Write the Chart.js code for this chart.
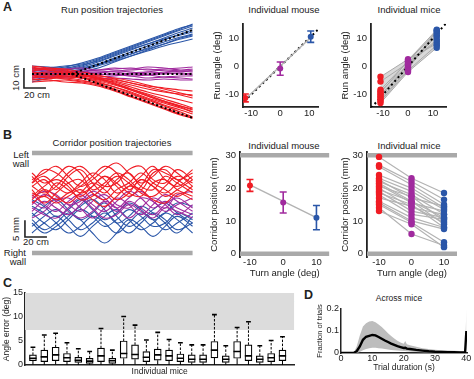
<!DOCTYPE html>
<html><head><meta charset="utf-8">
<script src="https://cdn.jsdelivr.net/npm/chart.js@4"></script>
<style>
html,body{margin:0;padding:0;background:#fff;}
body{width:474px;height:379px;position:relative;overflow:hidden;font-family:"Liberation Sans",Arial,sans-serif;color:#222;}
.t{position:absolute;white-space:nowrap;font-size:9.5px;line-height:1;transform:translate(-50%,-50%);}
.s{font-size:8.5px;}
.L{position:absolute;font-weight:bold;font-size:12.5px;line-height:1;}
.r{transform:translate(-50%,-50%) rotate(-90deg);}
</style></head><body>
<div class="L" style="left:3px;top:1px">A</div>
<div class="t" style="left:112px;top:10px">Run position trajectories</div>
<div class="t" style="left:284px;top:10px">Individual mouse</div>
<div class="t" style="left:409px;top:10px">Individual mice</div>
<div class="t r" style="left:16px;top:78px">10 cm</div>
<div class="t" style="left:37px;top:95px">20 cm</div>

<div class="L" style="left:3px;top:129px">B</div>
<div class="t" style="left:112px;top:143px">Corridor position trajectories</div>
<div class="t" style="left:284px;top:146px">Individual mouse</div>
<div class="t" style="left:409px;top:146px">Individual mice</div>
<div style="position:absolute;left:0;top:151px;width:29px;text-align:right;font-size:9.5px;line-height:8.5px">Left<br>wall</div>
<div style="position:absolute;left:0;top:249px;width:26px;text-align:right;font-size:9.5px;line-height:8.5px">Right<br>wall</div>
<div class="t r" style="left:16px;top:229px">5 mm</div>
<div class="t" style="left:36px;top:242px">20 cm</div>

<div class="L" style="left:3px;top:277px">C</div>
<div class="t s" style="left:267px;top:300px">Chance levels</div>
<div class="L" style="left:304px;top:289px">D</div>
<div class="t s" style="left:399px;top:298px">Across mice</div>

<script>
// ---------------- DATA ----------------
// Panel A: run position trajectories (x: cm along run, y: cm lateral)
const trajXRun = [0,15,30,45,60,75,90,105,120,135,146];
const runRed = [
 [3,2,1,0,-2,-4.5,-7.5,-10.5,-13.5,-16.5,-19],
 [-1,-2,-2,-3,-5,-7.5,-10,-13,-16,-19,-21.5],
 [4,3,2.5,1,-0.5,-2.5,-4.5,-6.5,-8.5,-10.5,-12],
 [0,1,0,-1.5,-3,-5,-7.5,-10,-12.5,-15,-17],
 [-4,-3.5,-3,-4,-5.5,-8,-11,-14,-17,-20,-22],
 [2,3,2,0,-1.5,-3.5,-5.5,-7.5,-9,-10,-10.5],
 [-2,-1,-1.5,-2,-4,-6.5,-9,-12,-14.5,-17,-19],
 [1,0,-1,-1,-2,-3,-4.5,-6,-7,-8,-8.5],
 [-3,-2.5,-1,-2,-3.5,-5.5,-8,-11,-13.5,-16,-18],
 [3.5,2,0.5,-0.5,-2.5,-5,-8,-11,-14,-16,-17.5],
 [-0.5,-1.5,-2.5,-3.5,-4.5,-6.5,-9.5,-12.5,-15.5,-18,-20],
 [1.5,2.5,1.5,-0.5,-1,-2,-3.5,-5.5,-7.5,-9.5,-11],
 [0.5,-0.5,0,-0.5,-2.5,-4,-6.5,-9,-11,-13,-14.5],
 [-2.5,-3,-4,-4.5,-6,-8.5,-11.5,-14.5,-17.5,-20.5,-22]
];
const runPurple = [
 [1,0,1,2,1.5,1,0,1,2,1.5,1],
 [-1,0.5,0,-1,-1.5,-1,0,-0.5,-1.5,-2,-2.5],
 [2,1.5,2.5,3,2,2.5,3,2,2.5,3,3.5],
 [0,-1,-2,-1.5,-0.5,0,-1,-2,-1.5,-1,-1],
 [-2,-1.5,-0.5,0.5,1,0,-1,-0.5,0,0.5,0],
 [1.5,2,1,0,0.5,1.5,2,2.5,1.5,1,2],
 [-0.5,0,-1,-2,-2.5,-2,-2.5,-3,-2.5,-3,-3],
 [0.5,1,0.5,1,0,-0.5,0.5,1,0.5,0,-0.5],
 [-1.5,-2,-1.5,-0.5,0.5,1.5,1,0,0.5,1.5,1.5],
 [3,2.5,1.5,1,2,3,2.5,3.5,3,2,2.5]
];
const runBlue = [
 [3,2,2.5,4,7,10,13,16,19,22,24],
 [-2,0,1,2.5,5,8,11,14,17,20,22],
 [1,3,4,5,7.5,10.5,13.5,16.5,19.5,22.5,25],
 [-4,-2,0,2,4,6.5,9,11.5,14,16,17.5],
 [2,1,2,3.5,6,9,12,15,17.5,19.5,21],
 [4,3.5,3,4.5,6.5,9.5,12.5,15,18,21,23],
 [0,-1,0.5,2,4.5,7.5,10,13,16,18.5,20],
 [-1,1,2,3,5,7,10,12.5,15,17.5,19],
 [2.5,2.5,3.5,5.5,8,11,14,17,20,23,24.5],
 [-3,-1.5,-0.5,1,3,6,9,12,15,18,19.5]
];
// ideal paths (dashed): start x, end x, end lateral offset
const idealStartX = [0, 36, 36];
const idealEndX = [146, 146, 146];
const idealEndY = [0, 22, -22];
const scaleBarRun = {x0: -7.3, y0: -7, lenX: 20, lenY: 10};

// Panel A middle: individual mouse
const turnMouseA = [-12, 0, 10.5];
const runMouse = [-11.2, -0.8, 10.5];
const runMouseErr = [1.4, 2.35, 2];
const runFitY = [-11.6, 10.2];
// Panel A right: individual mice
const turnMiceA = [-11, 0, 11.5];
const runMiceRed = [-3.7,-5.4,-8.3,-8.9,-9.4,-10,-10.6,-11.1,-11.7,-12.3,-13];
const runMicePurple = [2.5,1.2,1.8,0.5,2,0,-0.5,1,-1,-1.5,-2];
const runMiceBlue = [8.0,10.5,12.3,9.5,13,11,11.7,8.8,12.8,7.5,6.6];
const runTicks = [-10, 0, 10];
const unityRange = [-16, 17];

// Panel B: corridor position trajectories (x: cm, y: mm from right wall)
const trajXCorr = [0,11,22,33,44,55,66,77,88,99,110,121,132,146];
const corrRed = [
 [20,22,19,23,25,21,18,22,24,20,19,23,21,18],
 [18,17,21,19,17,20,23,21,18,17,21,22,19,17],
 [22,24,26,23,20,22,25,27,24,21,23,26,24,20],
 [16,19,17,15,18,21,19,16,18,22,20,17,19,22],
 [24,21,23,26,24,19,21,24,22,19,24,25,22,24],
 [19,15,18,21,22,18,16,19,21,24,21,19,17,20],
 [21,23,20,18,21,24,22,18,20,23,26,22,20,23],
 [17,20,22,20,16,17,20,23,21,18,17,20,23,21],
 [23,19,16,18,20,23,26,24,19,22,20,18,21,25],
 [20,18,20,24,26,23,20,21,25,26,22,21,25,22],
 [15,17,15,17,19,16,14,17,20,19,16,15,18,16],
 [21,25,24,21,18,20,23,20,17,20,25,24,22,19]
];
const corrPurple = [
 [15.5,13.5,16.5,14.5,12.5,15.5,17.5,14.5,13.5,16.5,15.5,12.5,14.5,16.5],
 [12.5,15.5,13.5,11.5,14.5,17.5,15.5,12.5,15.5,13.5,11.5,14.5,16.5,13.5],
 [17.5,14.5,12.5,15.5,17.5,14.5,12.5,15.5,18.5,16.5,13.5,15.5,13.5,11.5],
 [10.5,12.5,15.5,16.5,13.5,10.5,13.5,16.5,14.5,11.5,14.5,17.5,15.5,12.5],
 [14.5,17.5,15.5,12.5,10.5,12.5,15.5,13.5,10.5,13.5,16.5,14.5,11.5,14.5],
 [16.5,18.5,17.5,14.5,15.5,18.5,16.5,13.5,16.5,18.5,15.5,13.5,17.5,18.5],
 [13.5,11.5,10.5,13.5,16.5,13.5,10.5,11.5,14.5,12.5,10.5,13.5,12.5,10.5]
];
const corrBlue = [
 [12,9,7,10,13,11,8,10,13,11,8,9,12,10],
 [8,11,13,10,7,9,12,9,6,9,12,10,7,9],
 [14,12,9,6,8,11,9,6,9,12,10,7,9,12],
 [10,7,9,12,10,6,3,6,10,8,5,8,11,8],
 [6,9,11,8,5,8,11,13,10,7,9,12,10,6],
 [16,14,11,13,16,13,10,12,15,13,10,12,15,14],
 [11,14,16,13,10,12,15,11,8,10,13,15,12,9],
 [9,6,8,11,14,16,13,9,11,14,12,9,6,11]
];
const wallY = [30, 0];
const wallX = [0, 146];
const scaleBarCorr = {x0: -6.4, y0: 4.8, lenX: 20, lenY: 5};

// Panel B middle / right
const turnB = [-10, 0, 10];
const corrMouse = [20.8, 15.6, 11];
const corrMouseErr = [1.8, 3.2, 3.7];
const corrFitY = [21, 11];
const corrMiceRed = [29.5,27,26.5,24,23,22.5,22,21.5,21,20.5,20,19.5,19,18.5,18,17,16,15.5,15,14,13];
const corrMicePurple = [23,22,21,20,19,17,18,16,15.5,17.5,14,16,13,15,12,14.5,11,10,9.5,6,9];
const corrMiceBlue = [18.5,16.5,15,14,13.5,14.5,12,11,13,10,12,9,11,8,10.5,9.5,8,7.5,3.5,2.5,2];
const corrTicks = [0, 10, 20, 30];

// Panel C: angle error box plots per mouse
const boxQ1 = [0.9,0.7,0.9,0.7,0.55,0.35,0.7,0.35,1.4,1.2,0.7,1.0,0.9,0.7,0.55,0.55,1.5,0.55,1.4,0.9,0.55,0.7,0.9];
const boxMed = [1.4,1.7,2.1,1.5,1.0,0.8,1.9,0.9,2.4,2.2,1.6,2.1,1.9,1.4,1.2,1.2,3.1,1.2,2.8,1.9,1.2,1.5,1.9];
const boxQ3 = [2.1,3.1,3.7,2.4,1.6,1.4,3.5,1.4,5.0,4.2,2.8,3.3,3.1,2.3,2.1,2.1,4.9,1.9,4.9,4.2,1.9,2.4,3.1];
const whiskHi = [3.7,6.25,6.6,4.65,3.4,2.8,7.6,3.1,10.1,8.3,5.2,6.8,5.3,4.65,4.2,4.2,10.5,4.0,7.8,9.0,4.0,5.1,5.9];
const whiskLo = [0.1,0,0.1,0,0,0,0,0,0.1,0.1,0,0.1,0,0,0,0,0,0,0.1,0,0,0,0];
const chanceLevel = [7.3, 15];
const errTicks = [0, 5, 10, 15];

// Panel D: trial duration distribution
const durX = [0,2,4,5,6,7,8,9,10,11,12,13,14,15,16,17,18,19,20,20.5,21,22,24,26,28,30,32,34,36,38,39.6,40];
const durMean = [0,0,0,0.008,0.03,0.06,0.074,0.078,0.082,0.08,0.073,0.065,0.057,0.05,0.043,0.037,0.031,0.027,0.023,0.024,0.02,0.018,0.014,0.011,0.008,0.006,0.005,0.004,0.004,0.003,0.003,0.1];
const durUpper = [0,0,0,0.03,0.08,0.12,0.135,0.143,0.145,0.14,0.13,0.118,0.105,0.09,0.077,0.066,0.056,0.048,0.042,0.055,0.04,0.035,0.028,0.022,0.018,0.015,0.013,0.011,0.01,0.009,0.009,0.2];
const durLower = [0,0,0,0,0.004,0.012,0.018,0.022,0.024,0.024,0.022,0.02,0.018,0.016,0.014,0.012,0.011,0.01,0.009,0.009,0.008,0.007,0.005,0.003,0.002,0.001,0,0,0,0,0,0.02];
const durXTicks = [0,10,20,30,40];
const fracTicks = [0, 0.1, 0.2];

// ---------------- STYLE ----------------
const RED = '#f01c24', PURPLE = '#a02a9e', BLUE = '#2a56a8', GRAYL = '#b3b3b3', WALL = '#a9a9a9', INK = '#222';
Chart.defaults.font.family = '"Liberation Sans", Arial, sans-serif';
Chart.defaults.font.size = 9.5;
Chart.defaults.color = INK;
Chart.defaults.animation = false;
Chart.defaults.responsive = false;
Chart.defaults.plugins.legend.display = false;
Chart.defaults.plugins.tooltip.enabled = false;
Chart.defaults.elements.point.radius = 0;

function mk(left, top, w, h, config) {
  const c = document.createElement('canvas');
  c.width = w; c.height = h;
  c.style.cssText = 'position:absolute;left:' + left + 'px;top:' + top + 'px;width:' + w + 'px;height:' + h + 'px';
  document.body.appendChild(c);
  return new Chart(c, config);
}
function line(points, color, width, extra) {
  return Object.assign({type: 'line', data: points, borderColor: color, borderWidth: width,
    pointRadius: 0, fill: false, tension: 0}, extra || {});
}
function trajSets(xs, list, color, width, tension) {
  return list.map(ys => line(xs.map((x, i) => ({x: x, y: ys[i]})), color, width, {tension: tension}));
}
function ticksFrom(arr) { return s => { s.ticks = arr.map(v => ({value: v})); }; }
function scaleBar(b) {
  return line([{x: b.x0, y: b.y0 + b.lenY}, {x: b.x0, y: b.y0}, {x: b.x0 + b.lenX, y: b.y0}], INK, 1.6);
}
function errBars(xs, ys, es, colors) {
  return xs.map((x, i) => line([{x: x, y: ys[i] - es[i]}, {x: x, y: ys[i] + es[i]}], colors[i], 1.6,
    {pointRadius: 3.5, pointStyle: 'line', pointBorderColor: colors[i], pointBorderWidth: 1.6}));
}
function markers(xs, ys, colors, r) {
  return {type: 'line', showLine: false, data: xs.map((x, i) => ({x: x, y: ys[i]})),
    pointRadius: r, pointBackgroundColor: colors, pointBorderWidth: 0};
}
function cloud(x, vals, color) {
  return {type: 'line', showLine: false, data: vals.map(v => ({x: x, y: v})),
    pointRadius: 3.2, pointBackgroundColor: color, pointBorderWidth: 0};
}
const COLS = [RED, PURPLE, BLUE];
const hidden = (min, max) => ({type: 'linear', display: false, min: min, max: max});
function axis(min, max, ticks, extra) {
  return Object.assign({type: 'linear', min: min, max: max,
    grid: {display: false, drawTicks: false},
    border: {display: true, color: INK, width: 1.8},
    afterBuildTicks: ticksFrom(ticks)}, extra || {});
}

// ---------- A: run trajectories ----------
const idealSets = idealStartX.map((x0, i) =>
  line([{x: x0, y: 0}, {x: idealEndX[i], y: idealEndY[i]}], '#000', 2, {borderDash: [2, 2.5]}));
mk(20, 15, 175, 107, {
  type: 'line',
  data: {datasets: [...idealSets, scaleBar(scaleBarRun),
    ...trajSets(trajXRun, runRed, RED, 1.2, 0.3),
    ...trajSets(trajXRun, runPurple, PURPLE, 1.1, 0.3),
    ...trajSets(trajXRun, runBlue, BLUE, 1.1, 0.3)]},
  options: {scales: {x: hidden(-10.9, 148.2), y: hidden(-24, 29.5)}}
});

// ---------- A middle ----------
mk(212, 14, 113, 107, {
  type: 'line',
  data: {datasets: [
    markers(turnMouseA, runMouse, COLS, 3),
    ...errBars(turnMouseA, runMouse, runMouseErr, COLS),
    line([{x: turnMouseA[0], y: runFitY[0]}, {x: turnMouseA[2], y: runFitY[1]}], GRAYL, 1.4),
    line(unityRange.map(v => ({x: v, y: v})), '#000', 2, {borderDash: [2, 3]})
  ]},
  options: {layout: {padding: {top: 6, right: 7}},
    scales: {
      x: axis(-12.8, 13, runTicks, {ticks: {padding: 1}, afterFit: s => { s.height = 14; }}),
      y: axis(-14.4, 15.1, runTicks, {ticks: {padding: 4},
        title: {display: true, text: 'Run angle (deg)', padding: 0, font: {size: 9.5}},
        afterFit: s => { s.width = 31; }})
    }}
});

// ---------- A right ----------
const runMice = runMiceRed.map((r, i) => [r, runMicePurple[i], runMiceBlue[i]]);
const runGroups = [runMiceRed, runMicePurple, runMiceBlue];
mk(340, 14, 114, 107, {
  type: 'line',
  data: {datasets: [
    cloud(turnMiceA[0], runMiceRed, RED),
    cloud(turnMiceA[1], runMicePurple, PURPLE),
    cloud(turnMiceA[2], runMiceBlue, BLUE),
    line(unityRange.map(v => ({x: v, y: v})), '#000', 2, {borderDash: [2, 3]}),
    ...runMice.map(m => line(m.map((v, i) => ({x: turnMiceA[i], y: v})), '#aaaaaa', 1)),
    line(runGroups.map((g, i) => ({x: turnMiceA[i], y: Math.max(...g)})), 'rgba(0,0,0,0)', 0,
      {fill: '+1', backgroundColor: '#d9d9d9'}),
    line(runGroups.map((g, i) => ({x: turnMiceA[i], y: Math.min(...g)})), 'rgba(0,0,0,0)', 0)
  ]},
  options: {layout: {padding: {top: 6, right: 8}},
    scales: {
      x: axis(-14.8, 15.2, runTicks, {ticks: {padding: 1}, afterFit: s => { s.height = 14; }}),
      y: axis(-14.4, 15.1, runTicks, {ticks: {padding: 4},
        title: {display: true, text: 'Run angle (deg)', padding: 0, font: {size: 9.5}},
        afterFit: s => { s.width = 31; }})
    }}
});

// ---------- B: corridor trajectories ----------
const wallSets = wallY.map(y => line(wallX.map(x => ({x: x, y: y})), WALL, 4.5));
mk(20, 145, 175, 115, {
  type: 'line',
  data: {datasets: [scaleBar(scaleBarCorr), ...wallSets,
    ...trajSets(trajXCorr, corrRed, RED, 1.1, 0.4),
    ...trajSets(trajXCorr, corrPurple, PURPLE, 1.1, 0.4),
    ...trajSets(trajXCorr, corrBlue, BLUE, 1.1, 0.4)]},
  options: {scales: {x: hidden(-10.9, 148.2), y: hidden(-2.1, 32.4)}}
});

// ---------- B middle ----------
function bWalls(xmin, xmax) { return wallY.map(y => line([{x: xmin, y: y}, {x: xmax, y: y}], WALL, 4.5)); }
mk(209, 140, 126, 139, {
  type: 'line',
  data: {datasets: [
    markers(turnB, corrMouse, COLS, 3),
    ...errBars(turnB, corrMouse, corrMouseErr, COLS),
    line([{x: turnB[0], y: corrFitY[0]}, {x: turnB[2], y: corrFitY[1]}], GRAYL, 1.4),
    ...bWalls(-13, 13.9)
  ]},
  options: {layout: {padding: {top: 12, right: 5}},
    scales: {
      x: axis(-13, 13.9, runTicks, {border: {display: false}, ticks: {padding: 0},
        title: {display: true, text: 'Turn angle (deg)', padding: 0, font: {size: 9.5}},
        afterFit: s => { s.height = 22; }}),
      y: axis(-1, 31, corrTicks, {ticks: {padding: 4},
        title: {display: true, text: 'Corridor position (mm)', padding: 0, font: {size: 9.5}},
        afterFit: s => { s.width = 31; }})
    }}
});

// ---------- B right ----------
const corrMice = corrMiceRed.map((r, i) => [r, corrMicePurple[i], corrMiceBlue[i]]);
mk(340, 140, 122, 139, {
  type: 'line',
  data: {datasets: [
    cloud(turnB[0], corrMiceRed, RED),
    cloud(turnB[1], corrMicePurple, PURPLE),
    cloud(turnB[2], corrMiceBlue, BLUE),
    ...corrMice.map(m => line(m.map((v, i) => ({x: turnB[i], y: v})), GRAYL, 1.2)),
    ...bWalls(-13.7, 14)
  ]},
  options: {layout: {padding: {top: 12, right: 5}},
    scales: {
      x: axis(-13.7, 14, runTicks, {border: {display: false}, ticks: {padding: 0},
        title: {display: true, text: 'Turn angle (deg)', padding: 0, font: {size: 9.5}},
        afterFit: s => { s.height = 22; }}),
      y: axis(-1, 31, corrTicks, {ticks: {padding: 4},
        title: {display: true, text: 'Corridor position (mm)', padding: 0, font: {size: 9.5}},
        afterFit: s => { s.width = 27; }})
    }}
});

// ---------- C: box plots ----------
const mouseIdx = boxQ1.map((_, i) => i + 1);
const cMin = 0.3, cMax = mouseIdx.length + 1.05;
function whiskerPts(from, to) {
  const out = [];
  mouseIdx.forEach((x, i) => { out.push({x: x, y: from[i]}, {x: x, y: to[i]}, {x: x, y: null}); });
  return out;
}
mk(0, 283, 300, 96, {
  type: 'bar',
  data: {datasets: [
    {type: 'line', showLine: false, data: mouseIdx.map((x, i) => ({x: x, y: boxMed[i]})),
      pointStyle: 'line', pointRadius: 3.6, pointBorderColor: '#000', pointBorderWidth: 1.6},
    {type: 'line', showLine: false, data: mouseIdx.map((x, i) => ({x: x, y: whiskHi[i]})),
      pointStyle: 'line', pointRadius: 2.4, pointBorderColor: '#000', pointBorderWidth: 1.6},
    {type: 'bar', data: mouseIdx.map((x, i) => ({x: x, y: [boxQ1[i], boxQ3[i]]})), grouped: false,
      barThickness: 7, backgroundColor: '#fff', borderColor: '#000', borderWidth: 1.2, borderSkipped: false},
    line(whiskerPts(boxQ3, whiskHi), '#000', 1, {spanGaps: false, borderDash: [2.5, 1.5]}),
    line(whiskerPts(whiskLo, boxQ1), '#000', 1, {spanGaps: false}),
    line([{x: cMin, y: chanceLevel[1]}, {x: cMax, y: chanceLevel[1]}], 'rgba(0,0,0,0)', 0,
      {fill: {value: chanceLevel[0]}, backgroundColor: '#dcdcdc'})
  ]},
  options: {layout: {padding: {top: 10, right: 3}},
    scales: {
      x: {type: 'linear', min: cMin, max: cMax, offset: false,
        grid: {display: false, drawTicks: false}, border: {display: true, color: INK, width: 1.5},
        ticks: {display: false},
        title: {display: true, text: 'Individual mice', padding: {top: 0, bottom: 2}, font: {size: 8.5}},
        afterFit: s => { s.height = 14; }},
      y: axis(0, 15, errTicks, {border: {display: true, color: INK, width: 1.5}, ticks: {padding: 2, font: {size: 9}},
        title: {display: true, text: 'Angle error (deg)', padding: {top: 2, bottom: 0}, font: {size: 8.5}},
        afterFit: s => { s.width = 25; }})
    }}
});

// ---------- D: trial durations ----------
mk(315, 300, 159, 79, {
  type: 'line',
  data: {datasets: [
    line(durX.map((x, i) => ({x: x, y: durMean[i]})), '#000', 2.4),
    line(durX.map((x, i) => ({x: x, y: durUpper[i]})), 'rgba(0,0,0,0)', 0, {fill: '+1', backgroundColor: '#bdbdbd'}),
    line(durX.map((x, i) => ({x: x, y: durLower[i]})), 'rgba(0,0,0,0)', 0)
  ]},
  options: {layout: {padding: {top: 9, right: 7}},
    scales: {
      x: axis(0, 40.2, durXTicks, {border: {display: true, color: INK, width: 1.5}, ticks: {padding: 0, font: {size: 9}},
        title: {display: true, text: 'Trial duration (s)', padding: {top: 0, bottom: 6}, font: {size: 8.5}},
        afterFit: s => { s.height = 26; }}),
      y: axis(0, 0.2, fracTicks, {border: {display: true, color: INK, width: 1.5}, ticks: {padding: 2, font: {size: 9}},
        title: {display: true, text: 'Fraction of trials', padding: 0, font: {size: 7.5}},
        afterFit: s => { s.width = 26; }})
    }}
});
</script>
</body></html>
